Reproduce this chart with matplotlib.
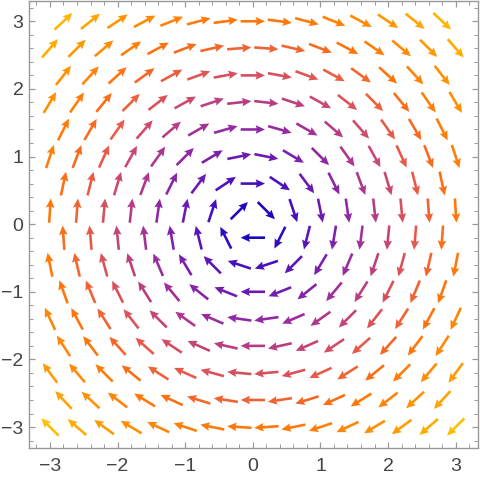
import numpy as np
import matplotlib
matplotlib.use("Agg")
import matplotlib.pyplot as plt
from matplotlib.colors import LinearSegmentedColormap
from matplotlib.ticker import MultipleLocator

# Hexagonal-style sample grid of the vector field F(x, y) = (y, -x)
row_y = [3.0, 2.6, 2.2, 1.8, 1.4, 1.0, 0.6, 0.2, -0.2, -0.6, -1.0, -1.4, -1.8, -2.2, -2.6, -3.0]
even_x = [-2.8, -2.4, -2.0, -1.6, -1.2, -0.8, -0.4, 0.0, 0.4, 0.8, 1.2, 1.6, 2.0, 2.4, 2.8]
odd_x = [-3.0, -2.6, -2.2, -1.8, -1.4, -1.0, -0.6, -0.2, 0.2, 0.6, 1.0, 1.4, 1.8, 2.2, 2.6, 3.0]
tick_vals = [-3, -2, -1, 0, 1, 2, 3]

xs, ys = [], []
for i, yv in enumerate(row_y):
    row = even_x if i % 2 == 0 else odd_x
    for xv in row:
        xs.append(xv)
        ys.append(yv)
X = np.array(xs)
Y = np.array(ys)
U = Y.copy()
V = -X.copy()
mag = np.hypot(U, V)
arrow_len = 0.36
Un = U / mag * arrow_len
Vn = V / mag * arrow_len

stops = [
    (0.00, (25, 5, 190)),
    (0.15, (90, 20, 185)),
    (0.30, (145, 40, 165)),
    (0.45, (200, 70, 115)),
    (0.56, (232, 92, 70)),
    (0.68, (255, 115, 12)),
    (0.85, (255, 150, 0)),
    (1.00, (255, 190, 0)),
]
cmap = LinearSegmentedColormap.from_list(
    "mma", [(p, tuple(c / 255 for c in rgb)) for p, rgb in stops])
norm = plt.Normalize(mag.min(), mag.max())

plt.rcParams["font.family"] = ["Liberation Sans", "DejaVu Sans"]
fig = plt.figure(figsize=(4.8, 4.8), dpi=100)
ax = fig.add_axes([29 / 480, 32 / 480, 449 / 480, 447 / 480])
ax.quiver(X, Y, Un, Vn, color=cmap(norm(mag)), angles="xy", scale_units="xy",
          scale=1, pivot="middle", width=0.0058, headwidth=3.3,
          headlength=3.6, headaxislength=3.2)

ax.set_xlim(-3.31, 3.33)
ax.set_ylim(-3.31, 3.30)
ax.set_aspect("auto")
ax.set_xticks(tick_vals)
ax.set_yticks(tick_vals)
ax.set_xticklabels([str(t).replace("-", "\u2212") for t in tick_vals])
ax.set_yticklabels([str(t).replace("-", "\u2212") for t in tick_vals])
ax.xaxis.set_minor_locator(MultipleLocator(0.2))
ax.yaxis.set_minor_locator(MultipleLocator(0.2))
frame_col = "#999999"
for s in ax.spines.values():
    s.set_color(frame_col)
    s.set_linewidth(1.0)
ax.tick_params(which="both", direction="in", top=True, right=True,
               color=frame_col, labelcolor="#444444", labelsize=14)
ax.tick_params(which="major", length=4.5, width=0.9, pad=4)
ax.tick_params(which="minor", length=2.6, width=0.7)
ax.tick_params(axis="x", which="major", pad=7)

fig.savefig("out.png", dpi=100)
